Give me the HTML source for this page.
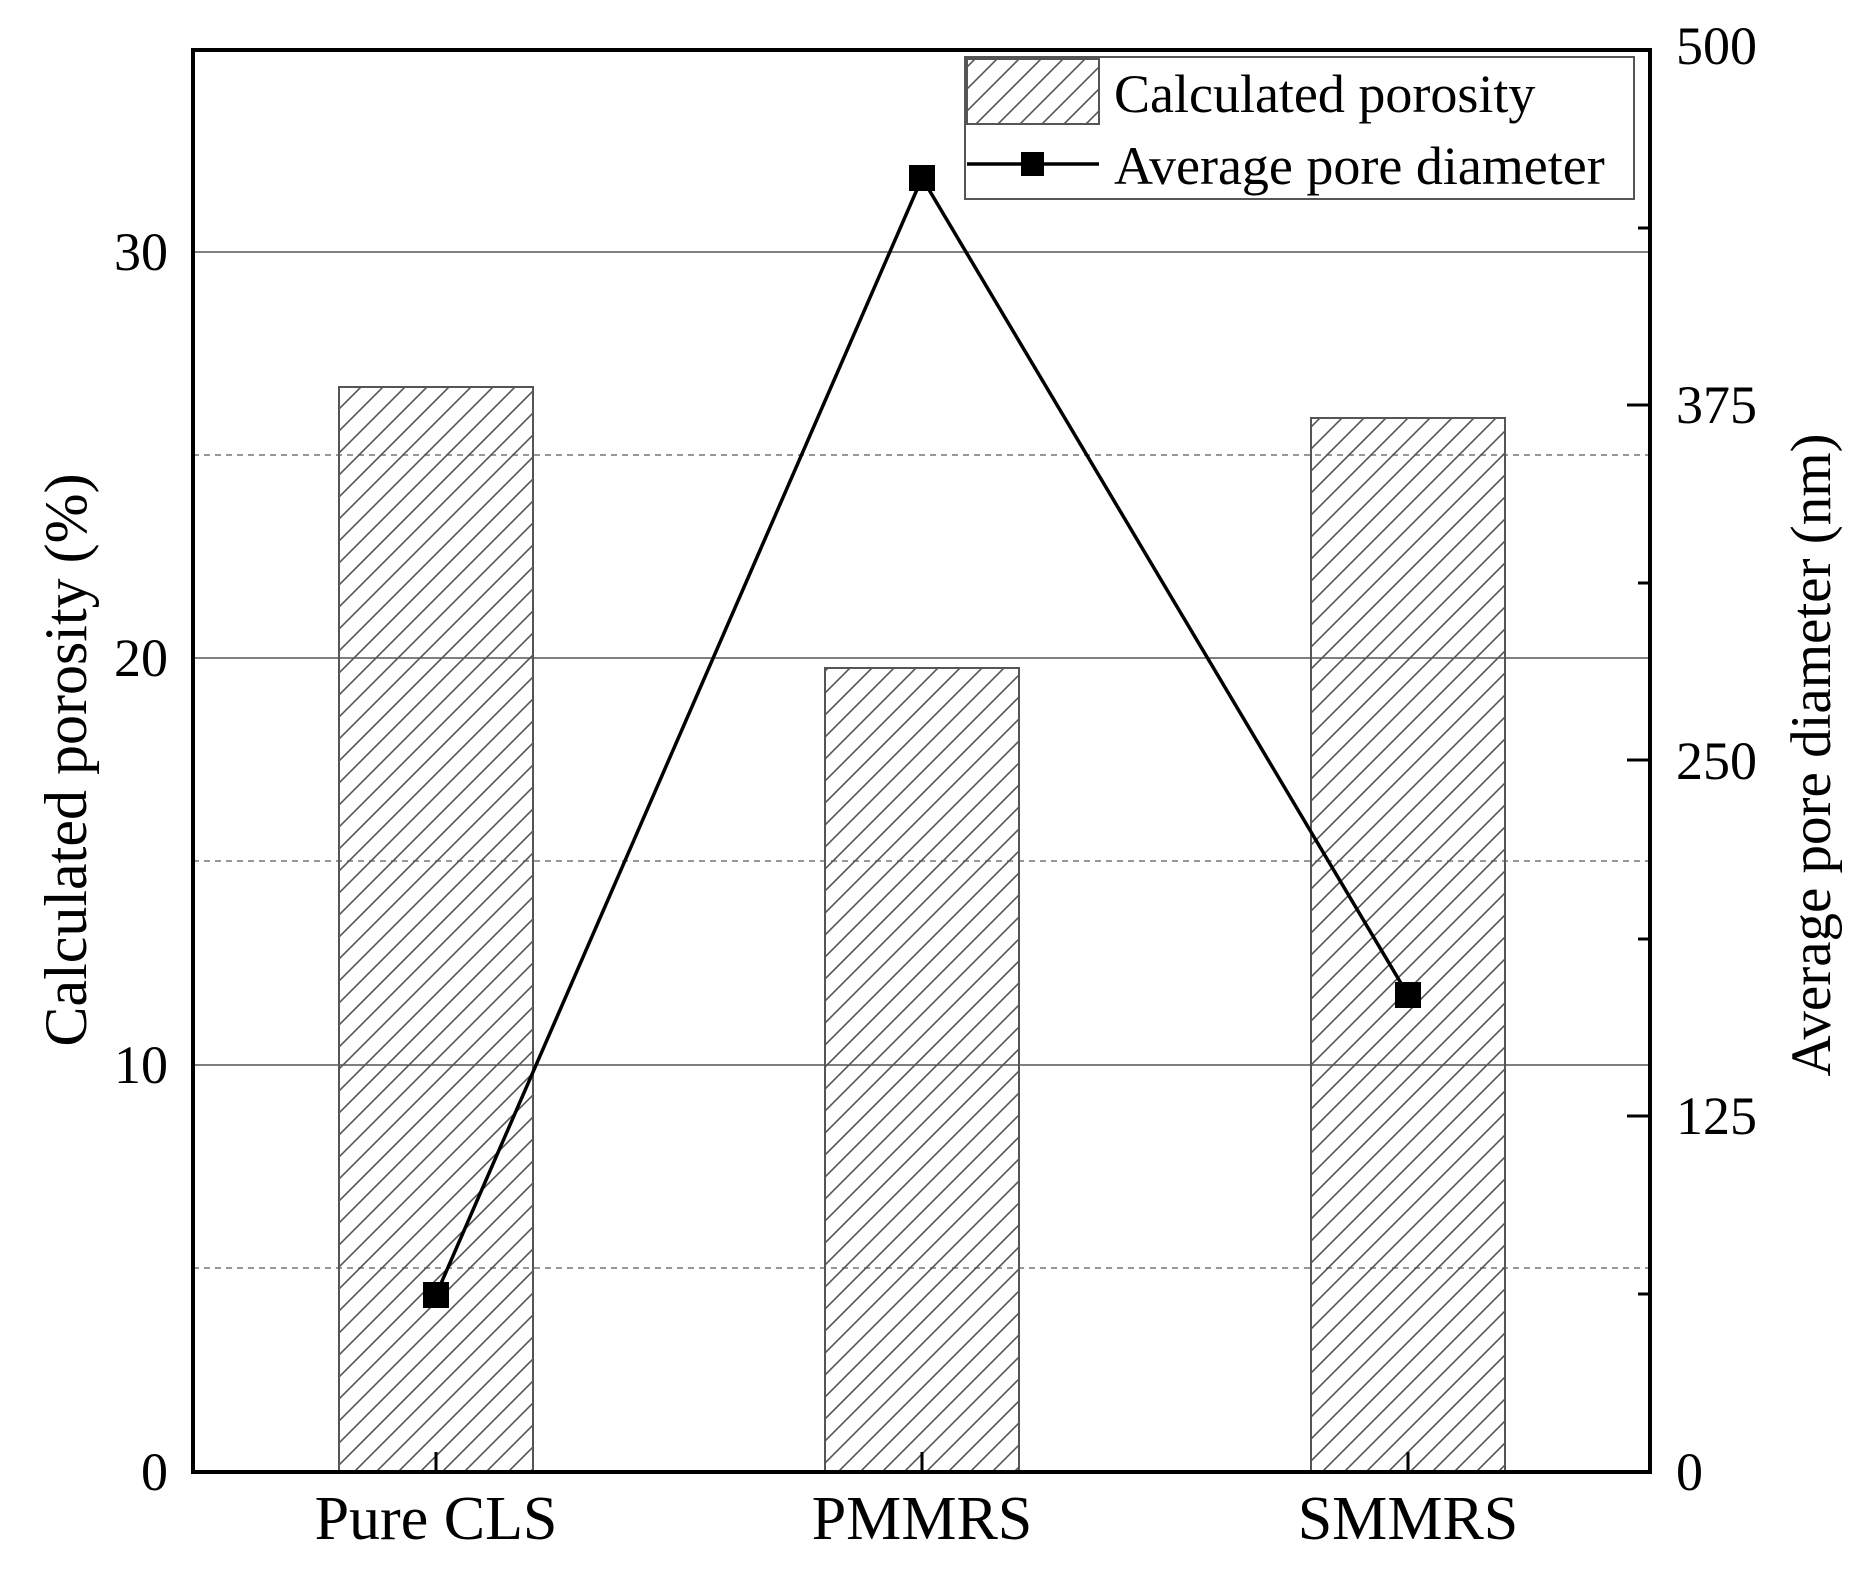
<!DOCTYPE html>
<html><head><meta charset="utf-8"><style>html,body{margin:0;padding:0;background:#fff}svg{display:block}</style></head>
<body>
<svg width="1870" height="1571" viewBox="0 0 1870 1571" xmlns="http://www.w3.org/2000/svg" font-family="'Liberation Serif', serif">
<defs>
<pattern id="h" patternUnits="userSpaceOnUse" width="22" height="22">
<path d="M-5,27 L27,-5 M-5,5 L5,-5 M17,27 L27,17" stroke="#555" stroke-width="1.6"/>
</pattern>
</defs>
<rect width="1870" height="1571" fill="#fff"/>
<g stroke="#555" stroke-width="1.5">
<line x1="193" y1="252" x2="1650" y2="252"/>
<line x1="193" y1="658" x2="1650" y2="658"/>
<line x1="193" y1="1065" x2="1650" y2="1065"/>
</g>
<g stroke="#777" stroke-width="1.5" stroke-dasharray="6,5">
<line x1="193" y1="455" x2="1650" y2="455"/>
<line x1="193" y1="861" x2="1650" y2="861"/>
<line x1="193" y1="1268" x2="1650" y2="1268"/>
</g>
<g stroke="#555" stroke-width="2" fill="url(#h)">
<rect x="339" y="387" width="194" height="1085"/>
<rect x="825" y="668" width="194" height="804"/>
<rect x="1311" y="418" width="194" height="1054"/>
</g>
<polyline points="436,1295 922,178 1408,995" fill="none" stroke="#000" stroke-width="3.5"/>
<g fill="#000">
<rect x="423" y="1282" width="26" height="26"/>
<rect x="909" y="165" width="26" height="26"/>
<rect x="1395" y="982" width="26" height="26"/>
</g>
<g stroke="#000" stroke-width="3">
<line x1="436" y1="1472" x2="436" y2="1452"/>
<line x1="922" y1="1472" x2="922" y2="1452"/>
<line x1="1408" y1="1472" x2="1408" y2="1452"/>
<line x1="1650" y1="405" x2="1627" y2="405"/>
<line x1="1650" y1="760" x2="1627" y2="760"/>
<line x1="1650" y1="1116" x2="1627" y2="1116"/>
<line x1="1650" y1="228" x2="1638" y2="228"/>
<line x1="1650" y1="583" x2="1638" y2="583"/>
<line x1="1650" y1="939" x2="1638" y2="939"/>
<line x1="1650" y1="1294" x2="1638" y2="1294"/>
</g>
<rect x="193" y="50" width="1457" height="1422" fill="none" stroke="#000" stroke-width="4"/>
<rect x="965" y="57" width="669" height="142" fill="#fff" stroke="#555" stroke-width="2"/>
<rect x="967" y="59" width="132" height="65" fill="url(#h)" stroke="#555" stroke-width="2"/>
<line x1="967" y1="164" x2="1099" y2="164" stroke="#000" stroke-width="3.5"/>
<rect x="1021" y="152" width="23" height="24" fill="#000"/>
<g font-size="54" fill="#000">
<text x="1114" y="112">Calculated porosity</text>
<text x="1114" y="184">Average pore diameter</text>
</g>
<g font-size="54" fill="#000" text-anchor="end">
<text x="168" y="1490">0</text>
<text x="168" y="1083">10</text>
<text x="168" y="676">20</text>
<text x="168" y="270">30</text>
</g>
<g font-size="54" fill="#000">
<text x="1676" y="1490">0</text>
<text x="1676" y="1134">125</text>
<text x="1676" y="779">250</text>
<text x="1676" y="423">375</text>
<text x="1676" y="64">500</text>
</g>
<g font-size="62" fill="#000" text-anchor="middle">
<text x="436" y="1539">Pure CLS</text>
<text x="922" y="1539">PMMRS</text>
<text x="1408" y="1539">SMMRS</text>
</g>
<text transform="translate(86,760) rotate(-90)" font-size="60" text-anchor="middle">Calculated porosity (%)</text>
<text transform="translate(1830,755) rotate(-90)" font-size="57" text-anchor="middle">Average pore diameter (nm)</text>
</svg>
</body></html>
